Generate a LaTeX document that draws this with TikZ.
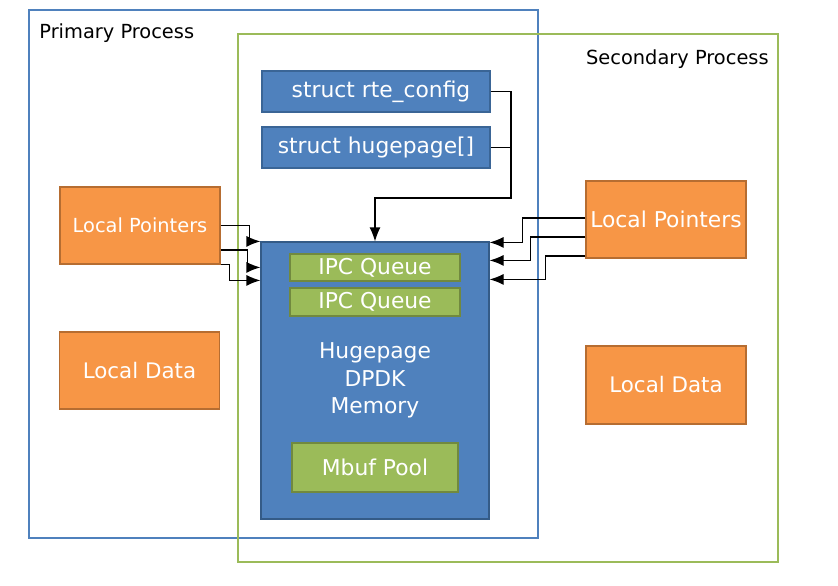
\documentclass[tikz,border=0pt]{standalone}
\usepackage{fontspec}
\setmainfont{DejaVu Sans}
\usetikzlibrary{arrows.meta,calc}
\definecolor{bfill}{HTML}{4F81BD}
\definecolor{bline}{HTML}{3A6596}
\definecolor{gfill}{HTML}{9BBB59}
\definecolor{gline}{HTML}{71893F}
\definecolor{ofill}{HTML}{F79646}
\definecolor{oline}{HTML}{B66D31}
\tikzset{bb/.append style={draw=bline,fill=bfill,text=white,inner sep=0pt,line width=0.6pt,
    font=\fontsize{10.9}{13.75}\selectfont}}
\tikzset{gb/.append style={draw=gline,fill=gfill,text=white,inner sep=0pt,line width=0.6pt,
    font=\fontsize{10.9}{13.75}\selectfont}}
\tikzset{ob/.append style={draw=oline,fill=ofill,text=white,inner sep=0pt,line width=0.7pt,
    minimum width=80pt,minimum height=38.5pt}}
\tikzset{lbl/.append style={inner sep=0pt,font=\fontsize{9.7}{12}\selectfont}}
\tikzset{ar/.append style={-{Latex[length=7pt,width=5.5pt]},line width=0.6pt}}

\begin{document}
\begin{tikzpicture}[x=0.5pt,y=-0.5pt]
                \useasboundingbox (0,0) rectangle (838,585);
                % process frames
                \draw[bfill,line width=1pt] (29,10) rectangle (538,538);
                \draw[gfill,line width=1pt] (238,34) rectangle (778,562);
                \node[lbl,anchor=base west] (prim) at (39,38) {Primary Process};
                \node[lbl,anchor=base east] (sec) at (769,64) {Secondary Process};
                % shared structures
                \node[bb,minimum width=114pt,minimum height=20.5pt] (rte) at (376,91.5) {\hspace{5pt}struct rte\_config};
                \node[bb,minimum width=114pt,minimum height=20.5pt] (huge) at (376,147.5) {struct hugepage[]};
                \node[bb,draw=bline!90!black,minimum width=114pt,minimum height=138.5pt,align=center] (mem) at (375,380.5) {Hugepage\\DPDK\\Memory};
                \node[gb,minimum width=85pt,minimum height=13.5pt] (ipcA) at (375,267.5) {IPC Queue};
                \node[gb,minimum width=85pt,minimum height=14pt] (ipcB) at (375,302) {IPC Queue};
                \node[gb,minimum width=83pt,minimum height=24.5pt] (mbuf) at (375,467.5) {Mbuf Pool};
                % process local boxes
                \node[ob,font=\fontsize{9.7}{12}\selectfont] (lpL) at (140,225.5) {Local Pointers};
                \node[ob,font=\fontsize{10.7}{13}\selectfont] (ldL) at (139.5,370.5) {Local Data};
                \node[ob,font=\fontsize{10.9}{13}\selectfont] (lpR) at (666,219.5) {Local Pointers};
                \node[ob,minimum height=39pt,font=\fontsize{10.7}{13}\selectfont] (ldR) at (666,385) {Local Data};
                % connectors
                \coordinate (jn) at (511,198);
                \draw[ar] (rte.east) -| (jn) -| (mem.north);
                \draw[line width=0.6pt] (huge.east) -- (huge.east -| jn);
                \draw[ar] (lpL.east) -- ++(29,0) |- (mem.north west);
                \draw[ar] ($(lpL.east)+(0,24.5)$) -- ++(27,0) |- ($(mem.north west)+(0,26)$);
                \draw[ar] (lpL.south east) -- ++(9,0) |- ($(mem.north west)+(0,39)$);
                \draw[ar] ($(lpR.west)+(0,-1.5)$) -- ++(-63,0) |- ($(mem.north east)+(0,1)$);
                \draw[ar] ($(lpR.west)+(0,17.5)$) -- ++(-55,0) |- ($(mem.north east)+(0,19)$);
                \draw[ar] ($(lpR.west)+(0,36.5)$) -- ++(-40,0) |- ($(mem.north east)+(0,38)$);
            \end{tikzpicture}
\end{document}
